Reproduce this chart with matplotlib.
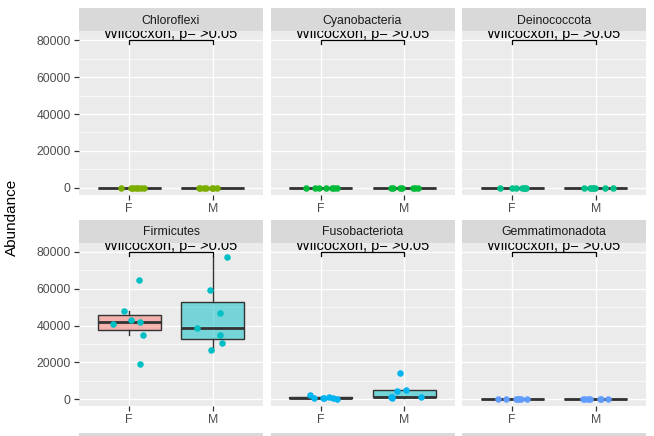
import matplotlib
matplotlib.use("Agg")
import matplotlib.pyplot as plt
import numpy as np

plt.rcParams["font.family"] = ["Liberation Sans", "DejaVu Sans"]

# data
phyla = ["Chloroflexi", "Cyanobacteria", "Deinococcota",
         "Firmicutes", "Fusobacteriota", "Gemmatimonadota"]
groups = ["F", "M"]
point_colors = ["#7CAE00", "#00BA38", "#00C08B", "#00BFC4", "#00B4F0", "#619CFF"]
box_colors = ["#F8766D", "#00BFC4"]
y_ticks = [0, 20000, 40000, 60000, 80000]
label_text = "Wilcocxon, p= >0.05"
bracket_y = 80000

chloroflexi_f = [60, 20, 150, 40, 90, 10, 120]
chloroflexi_m = [30, 80, 15, 110, 50, 70, 20]
cyanobacteria_f = [40, 110, 20, 70, 150, 30, 90]
cyanobacteria_m = [60, 25, 130, 45, 80, 10, 100]
deinococcota_f = [15, 70, 35, 120, 55, 90, 20]
deinococcota_m = [50, 20, 95, 30, 140, 65, 10]
firmicutes_f = [64540, 47780, 43080, 42000, 40760, 34810, 19135]
firmicutes_m = [59140, 46700, 38600, 34810, 30490, 26700, 76970]
fusobacteriota_f = [2400, 800, 700, 750, 1300, 800, 100]
fusobacteriota_m = [14300, 4700, 5200, 1100, 700, 1500, 1400]
gemmatimonadota_f = [25, 80, 40, 130, 60, 15, 100]
gemmatimonadota_m = [70, 30, 110, 20, 90, 45, 55]

# horizontal jitter of each point
chloroflexi_jit_f = [-0.095, 0.02, 0.05, 0.08, 0.11, 0.14, 0.18]
chloroflexi_jit_m = [-0.17, -0.15, -0.10, -0.08, -0.01, 0.0, 0.055]
cyanobacteria_jit_f = [-0.18, -0.07, -0.015, 0.06, 0.13, 0.16, 0.19]
cyanobacteria_jit_m = [-0.16, -0.14, -0.05, -0.03, 0.10, 0.13, 0.16]
deinococcota_jit_f = [-0.14, -0.005, 0.045, 0.12, 0.14, 0.155, 0.17]
deinococcota_jit_m = [-0.14, -0.07, -0.05, -0.03, -0.01, 0.11, 0.20]
firmicutes_jit_f = [0.12, -0.06, 0.025, 0.13, -0.19, 0.16, 0.13]
firmicutes_jit_m = [-0.03, 0.09, -0.185, 0.08, 0.11, -0.02, 0.17]
fusobacteriota_jit_f = [-0.133, -0.074, 0.033, 0.045, 0.105, 0.152, 0.193]
fusobacteriota_jit_m = [-0.054, -0.09, 0.02, -0.16, -0.15, 0.2, -0.15]
gemmatimonadota_jit_f = [-0.17, -0.07, 0.05, 0.065, 0.08, 0.11, 0.18]
gemmatimonadota_jit_m = [-0.15, -0.13, -0.09, -0.07, 0.05, 0.06, 0.15]

values = [
    (chloroflexi_f, chloroflexi_m),
    (cyanobacteria_f, cyanobacteria_m),
    (deinococcota_f, deinococcota_m),
    (firmicutes_f, firmicutes_m),
    (fusobacteriota_f, fusobacteriota_m),
    (gemmatimonadota_f, gemmatimonadota_m),
]
jitters = [
    (chloroflexi_jit_f, chloroflexi_jit_m),
    (cyanobacteria_jit_f, cyanobacteria_jit_m),
    (deinococcota_jit_f, deinococcota_jit_m),
    (firmicutes_jit_f, firmicutes_jit_m),
    (fusobacteriota_jit_f, fusobacteriota_jit_m),
    (gemmatimonadota_jit_f, gemmatimonadota_jit_m),
]

W, H = 654, 436
PANEL_BG = "#EBEBEB"
STRIP_BG = "#D9D9D9"
YLIM = (-3550, 84650)

col_left = [79, 270.5, 462, 653.5]
col_w = 184
row_top = [8, 219.5, 433]
strip_h = 23.5
panel_h = 163


def frac(x, y, w, h):
    return [x / W, 1 - (y + h) / H, w / W, h / H]


def style_panel(ax, show_y, show_x=True):
    ax.set_facecolor(PANEL_BG)
    ax.set_xlim(0.4, 2.6)
    ax.set_ylim(*YLIM)
    ax.set_yticks(y_ticks)
    ax.set_yticks([10000, 30000, 50000, 70000], minor=True)
    ax.set_xticks([1, 2])
    ax.set_xticklabels(groups if show_x else [])
    ax.grid(which="major", color="white", linewidth=1.0)
    ax.grid(which="minor", axis="y", color="white", linewidth=0.5)
    ax.set_axisbelow(True)
    for s in ax.spines.values():
        s.set_visible(False)
    ax.tick_params(axis="both", which="major", length=3.5, width=0.9,
                   color="#333333", labelcolor="#4D4D4D", labelsize=8.8, pad=2.5)
    ax.tick_params(axis="y", which="minor", length=0)
    if show_y:
        ax.set_yticklabels([str(t) for t in y_ticks])
    else:
        ax.tick_params(axis="y", which="major", length=0, labelleft=False)


def add_strip(x, y, text=None):
    sax = fig.add_axes(frac(x, y, col_w, strip_h))
    sax.set_facecolor(STRIP_BG)
    sax.set_xticks([])
    sax.set_yticks([])
    for s in sax.spines.values():
        s.set_visible(False)
    if text:
        sax.text(0.5, 0.45, text, ha="center", va="center",
                 fontsize=8.8, color="#1A1A1A", transform=sax.transAxes)


fig = plt.figure(figsize=(W / 100, H / 100), dpi=100)

for i, name in enumerate(phyla):
    r, c = divmod(i, 3)
    ax = fig.add_axes(frac(col_left[c], row_top[r] + strip_h, col_w, panel_h))

    data_f, data_m = values[i]
    bp = ax.boxplot([data_f, data_m], positions=[1, 2], widths=0.75,
                    patch_artist=True, showfliers=False, showcaps=False,
                    whis=1.5,
                    boxprops=dict(edgecolor="#333333", linewidth=1.0),
                    whiskerprops=dict(color="#333333", linewidth=1.0),
                    medianprops=dict(color="#333333", linewidth=2.0))
    for patch, col in zip(bp["boxes"], box_colors):
        patch.set_facecolor(matplotlib.colors.to_rgba(col, 0.5))

    for g, (vals, jit) in enumerate(zip(values[i], jitters[i])):
        xs = np.array(jit) + g + 1
        ax.scatter(xs, vals, s=22, color=point_colors[i], zorder=3,
                   linewidths=0)

    # comparison bracket and clipped label
    tip = 2200
    ax.plot([1, 1, 2, 2], [bracket_y - tip, bracket_y, bracket_y, bracket_y - tip],
            color="black", linewidth=0.9, zorder=4)
    ax.text(1.5, bracket_y + 1000, label_text, ha="center", va="baseline",
            fontsize=10.5, color="black", clip_on=True, zorder=4)

    style_panel(ax, show_y=(c == 0))
    add_strip(col_left[c], row_top[r], name)

# neighbouring facets that are cut off by the picture edge
for r in range(2):
    ax = fig.add_axes(frac(col_left[3], row_top[r] + strip_h, col_w, panel_h))
    style_panel(ax, show_y=False, show_x=False)
    add_strip(col_left[3], row_top[r])
for c in range(4):
    add_strip(col_left[c], row_top[2])

fig.text(12 / W, 1 - 217 / H, "Abundance", rotation=90, ha="center",
         va="center", fontsize=11, color="black")

fig.savefig("out.png", dpi=100, facecolor="white")
